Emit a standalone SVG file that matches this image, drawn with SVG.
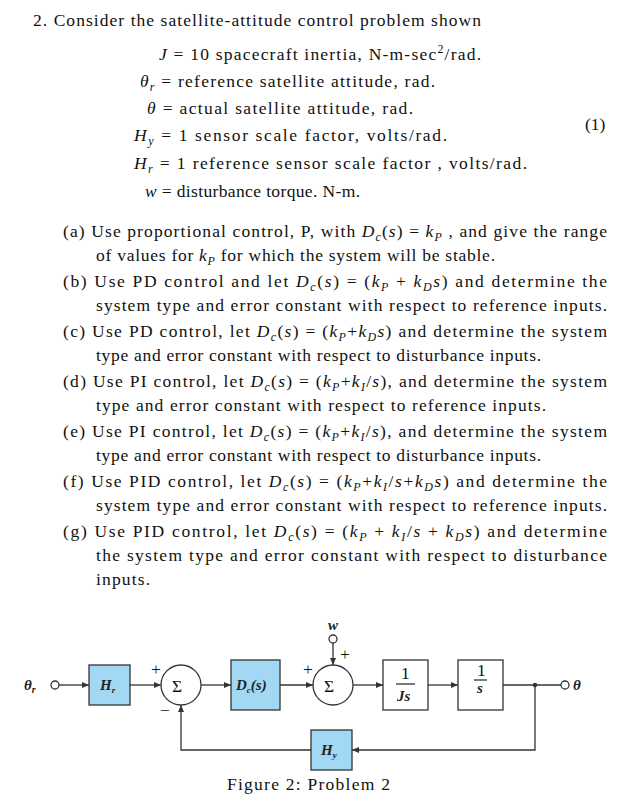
<svg xmlns="http://www.w3.org/2000/svg" width="636" height="801" viewBox="0 0 636 801">
<style>
text{font-family:"Liberation Serif","Times New Roman",serif;font-size:17.5px;fill:#111}
.i{font-style:italic}
.s{font-size:12px}
.bd{font-family:"Liberation Serif",serif;font-style:italic;font-weight:bold;font-size:15px;fill:#222}
.blk{stroke:#333;stroke-width:1.3}
.blue{fill:#a3d8f4}
.wht{fill:#fff}
.ln{stroke:#333;stroke-width:1.3;fill:none}
</style>
<defs><marker id="a" markerWidth="8" markerHeight="8" refX="7" refY="4" orient="auto" markerUnits="userSpaceOnUse"><path d="M0,1L7,4L0,7z" fill="#333"/></marker></defs>
<rect width="636" height="801" fill="#fff"/>
<text x="33" y="26" textLength="448" lengthAdjust="spacing">2. Consider the satellite-attitude control problem shown</text>
<text x="159" y="60" textLength="322" lengthAdjust="spacing"><tspan class="i">J</tspan> = 10   spacecraft inertia, N-m-sec<tspan class="s" dy="-7">2</tspan><tspan dy="7">/rad.</tspan></text>
<text x="140" y="87" textLength="295" lengthAdjust="spacing"><tspan class="i">θ</tspan><tspan class="s i" dy="4">r</tspan><tspan dy="-4"> = reference satellite attitude, rad.</tspan></text>
<text x="147" y="114" textLength="266" lengthAdjust="spacing"><tspan class="i">θ</tspan> = actual satellite attitude, rad.</text>
<text x="134" y="141" textLength="313" lengthAdjust="spacing"><tspan class="i">H</tspan><tspan class="s i" dy="4">y</tspan><tspan dy="-4"> = 1   sensor scale factor, volts/rad.</tspan></text>
<text x="134" y="169" textLength="393" lengthAdjust="spacing"><tspan class="i">H</tspan><tspan class="s i" dy="4">r</tspan><tspan dy="-4"> = 1   reference sensor scale factor , volts/rad.</tspan></text>
<text x="145" y="197" textLength="215" lengthAdjust="spacing"><tspan class="i">w</tspan> = disturbance torque. N-m.</text>
<text x="585" y="130">(1)</text>
<g>
<text x="63" y="237" textLength="544" lengthAdjust="spacing">(a)  Use proportional control, P, with <tspan class="i">D</tspan><tspan class="s i" dy="4">c</tspan><tspan dy="-4">(</tspan><tspan class="i">s</tspan>) = <tspan class="i">k</tspan><tspan class="s i" dy="4">P</tspan><tspan dy="-4"> , and give the range</tspan></text>
<text x="96" y="261" textLength="399" lengthAdjust="spacing">of values for <tspan class="i">k</tspan><tspan class="s i" dy="4">P</tspan><tspan dy="-4"> for which the system will be stable.</tspan></text>
<text x="63" y="287" textLength="544" lengthAdjust="spacing">(b)  Use PD control and let <tspan class="i">D</tspan><tspan class="s i" dy="4">c</tspan><tspan dy="-4">(</tspan><tspan class="i">s</tspan>) = (<tspan class="i">k</tspan><tspan class="s i" dy="4">P</tspan><tspan dy="-4"> + </tspan><tspan class="i">k</tspan><tspan class="s i" dy="4">D</tspan><tspan dy="-4" class="i">s</tspan>) and determine the</text>
<text x="96" y="311" textLength="511" lengthAdjust="spacing">system type and error constant with respect to reference inputs.</text>
<text x="63" y="337" textLength="544" lengthAdjust="spacing">(c)  Use PD control, let <tspan class="i">D</tspan><tspan class="s i" dy="4">c</tspan><tspan dy="-4">(</tspan><tspan class="i">s</tspan>) = (<tspan class="i">k</tspan><tspan class="s i" dy="4">P</tspan><tspan dy="-4">+</tspan><tspan class="i">k</tspan><tspan class="s i" dy="4">D</tspan><tspan dy="-4" class="i">s</tspan>) and determine the system</text>
<text x="96" y="361" textLength="445" lengthAdjust="spacing">type and error constant with respect to disturbance inputs.</text>
<text x="63" y="387" textLength="544" lengthAdjust="spacing">(d)  Use PI control, let <tspan class="i">D</tspan><tspan class="s i" dy="4">c</tspan><tspan dy="-4">(</tspan><tspan class="i">s</tspan>) = (<tspan class="i">k</tspan><tspan class="s i" dy="4">P</tspan><tspan dy="-4">+</tspan><tspan class="i">k</tspan><tspan class="s i" dy="4">I</tspan><tspan dy="-4">/</tspan><tspan class="i">s</tspan>), and determine the system</text>
<text x="96" y="411" textLength="450" lengthAdjust="spacing">type and error constant with respect to reference inputs.</text>
<text x="63" y="437" textLength="544" lengthAdjust="spacing">(e)  Use PI control, let <tspan class="i">D</tspan><tspan class="s i" dy="4">c</tspan><tspan dy="-4">(</tspan><tspan class="i">s</tspan>) = (<tspan class="i">k</tspan><tspan class="s i" dy="4">P</tspan><tspan dy="-4">+</tspan><tspan class="i">k</tspan><tspan class="s i" dy="4">I</tspan><tspan dy="-4">/</tspan><tspan class="i">s</tspan>), and determine the system</text>
<text x="96" y="461" textLength="445" lengthAdjust="spacing">type and error constant with respect to disturbance inputs.</text>
<text x="63" y="487" textLength="544" lengthAdjust="spacing">(f)  Use PID control, let <tspan class="i">D</tspan><tspan class="s i" dy="4">c</tspan><tspan dy="-4">(</tspan><tspan class="i">s</tspan>) = (<tspan class="i">k</tspan><tspan class="s i" dy="4">P</tspan><tspan dy="-4">+</tspan><tspan class="i">k</tspan><tspan class="s i" dy="4">I</tspan><tspan dy="-4">/</tspan><tspan class="i">s</tspan>+<tspan class="i">k</tspan><tspan class="s i" dy="4">D</tspan><tspan dy="-4" class="i">s</tspan>) and determine the</text>
<text x="96" y="511" textLength="511" lengthAdjust="spacing">system type and error constant with respect to reference inputs.</text>
<text x="63" y="537" textLength="544" lengthAdjust="spacing">(g)  Use PID control, let <tspan class="i">D</tspan><tspan class="s i" dy="4">c</tspan><tspan dy="-4">(</tspan><tspan class="i">s</tspan>) = (<tspan class="i">k</tspan><tspan class="s i" dy="4">P</tspan><tspan dy="-4"> + </tspan><tspan class="i">k</tspan><tspan class="s i" dy="4">I</tspan><tspan dy="-4">/</tspan><tspan class="i">s</tspan> + <tspan class="i">k</tspan><tspan class="s i" dy="4">D</tspan><tspan dy="-4" class="i">s</tspan>) and determine</text>
<text x="96" y="561" textLength="511" lengthAdjust="spacing">the system type and error constant with respect to disturbance</text>
<text x="96" y="585" textLength="54" lengthAdjust="spacing">inputs.</text>
</g>
<g id="connectors">
<path class="ln" d="M59,685H89" marker-end="url(#a)"/>
<path class="ln" d="M130,685H161" marker-end="url(#a)"/>
<path class="ln" d="M201,685H231" marker-end="url(#a)"/>
<path class="ln" d="M280,685H313" marker-end="url(#a)"/>
<path class="ln" d="M333,643V665" marker-end="url(#a)"/>
<path class="ln" d="M353,685H383" marker-end="url(#a)"/>
<path class="ln" d="M428,685H458" marker-end="url(#a)"/>
<path class="ln" d="M503,685H561"/>
<path class="ln" d="M535,685V750H352" marker-end="url(#a)"/>
<path class="ln" d="M311,750H181V705" marker-end="url(#a)"/>
<circle cx="535" cy="685" r="2.2" fill="#333"/>
</g>
<g id="in"><circle cx="55" cy="685" r="4" class="ln" fill="#fff"/><text class="bd" x="24" y="690">θ<tspan font-size="10" dy="3">r</tspan></text></g>
<g id="out"><circle cx="565" cy="685" r="4" class="ln" fill="#fff"/><text class="bd" x="573" y="690">θ</text></g>
<g id="w"><circle cx="333" cy="639" r="4" class="ln" fill="#fff"/><text class="bd" x="328" y="630" font-size="11">w</text><text x="340" y="660" font-size="12">+</text></g>
<g id="Hr"><rect x="89" y="665" width="41" height="40" class="blk blue"/><text class="bd" x="100" y="690">H<tspan font-size="9" dy="3">r</tspan></text></g>
<g id="sum1"><circle cx="181" cy="685" r="20" class="ln" fill="#fff"/><text x="172" y="692" font-size="20">Σ</text><text x="151" y="675" font-size="12">+</text><text x="160" y="716" font-size="12">−</text></g>
<g id="Dc"><rect x="231" y="660" width="49" height="50" class="blk blue"/><text class="bd" x="236" y="690">D<tspan font-size="9" dy="3">c</tspan><tspan dy="-3">(s)</tspan></text></g>
<g id="sum2"><circle cx="333" cy="685" r="20" class="ln" fill="#fff"/><text x="324" y="692" font-size="20">Σ</text><text x="303" y="675" font-size="12">+</text></g>
<g id="Js"><rect x="383" y="660" width="45" height="50" class="blk wht"/><text x="401" y="679" font-size="13">1</text><path d="M396,684H415" class="ln"/><text class="bd" x="397" y="701" font-size="13">Js</text></g>
<g id="s"><rect x="458" y="660" width="45" height="50" class="blk wht"/><text x="477" y="676" font-size="13">1</text><path d="M474,680H487" class="ln"/><text class="bd" x="477" y="693" font-size="13">s</text></g>
<g id="Hy"><rect x="311" y="730" width="41" height="40" class="blk blue"/><text class="bd" x="321" y="755">H<tspan font-size="9" dy="3">y</tspan></text></g>
<text x="227" y="790" textLength="163" lengthAdjust="spacing">Figure 2: Problem 2</text>
</svg>
